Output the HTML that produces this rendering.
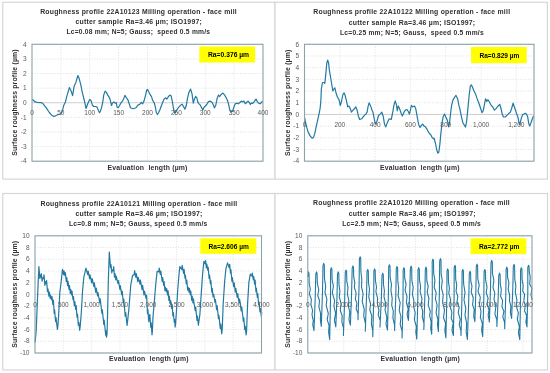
<!DOCTYPE html>
<html><head><meta charset="utf-8"><title>Roughness profiles</title>
<style>
html,body{margin:0;padding:0;background:#fff;}
body{width:550px;height:373px;overflow:hidden;}
svg{display:block;}
text{font-family:"Liberation Sans",sans-serif;}
.t{font-size:7.25px;font-weight:bold;letter-spacing:0.25px;fill:#303030;}
.a{font-size:7.1px;font-weight:bold;letter-spacing:0.2px;fill:#303030;}
.k{font-size:6.5px;fill:#595959;}
.r{font-size:6.8px;font-weight:bold;fill:#000;}
</style></head>
<body>
<svg width="550" height="373" viewBox="0 0 550 373">
<rect width="550" height="373" fill="#fff"/>
<rect x="2.8" y="2.3" width="272.2" height="176.79999999999998" fill="#fff" stroke="#d6d6d6" stroke-width="1.2"/>
<text x="138.60" y="13.9" class="t" style="white-space:pre" text-anchor="middle" textLength="196.80" lengthAdjust="spacingAndGlyphs">Roughness profile 22A10123 Milling operation - face mill</text>
<text x="138.75" y="24.2" class="t" style="white-space:pre" text-anchor="middle" textLength="126.70" lengthAdjust="spacingAndGlyphs">cutter sample Ra=3.46 µm; ISO1997;</text>
<text x="138.35" y="34.4" class="t" style="white-space:pre" text-anchor="middle" textLength="143.70" lengthAdjust="spacingAndGlyphs">Lc=0.08 mm; N=5; Gauss;  speed 0.5 mm/s</text>
<line x1="32" y1="161.20" x2="263" y2="161.20" stroke="#dcdcdc" stroke-width="0.9" stroke-dasharray="1 1.6"/>
<text x="26.50" y="163.40" class="k" text-anchor="end">-4</text>
<line x1="32" y1="146.59" x2="263" y2="146.59" stroke="#dcdcdc" stroke-width="0.9" stroke-dasharray="1 1.6"/>
<text x="26.50" y="148.79" class="k" text-anchor="end">-3</text>
<line x1="32" y1="131.97" x2="263" y2="131.97" stroke="#dcdcdc" stroke-width="0.9" stroke-dasharray="1 1.6"/>
<text x="26.50" y="134.17" class="k" text-anchor="end">-2</text>
<line x1="32" y1="117.36" x2="263" y2="117.36" stroke="#dcdcdc" stroke-width="0.9" stroke-dasharray="1 1.6"/>
<text x="26.50" y="119.56" class="k" text-anchor="end">-1</text>
<line x1="32" y1="102.75" x2="263" y2="102.75" stroke="#cfcfcf" stroke-width="1"/>
<text x="26.50" y="104.95" class="k" text-anchor="end">0</text>
<line x1="32" y1="88.14" x2="263" y2="88.14" stroke="#dcdcdc" stroke-width="0.9" stroke-dasharray="1 1.6"/>
<text x="26.50" y="90.34" class="k" text-anchor="end">1</text>
<line x1="32" y1="73.52" x2="263" y2="73.52" stroke="#dcdcdc" stroke-width="0.9" stroke-dasharray="1 1.6"/>
<text x="26.50" y="75.72" class="k" text-anchor="end">2</text>
<line x1="32" y1="58.91" x2="263" y2="58.91" stroke="#dcdcdc" stroke-width="0.9" stroke-dasharray="1 1.6"/>
<text x="26.50" y="61.11" class="k" text-anchor="end">3</text>
<line x1="32" y1="44.30" x2="263" y2="44.30" stroke="#dcdcdc" stroke-width="0.9" stroke-dasharray="1 1.6"/>
<text x="26.50" y="46.50" class="k" text-anchor="end">4</text>
<line x1="60.88" y1="44.3" x2="60.88" y2="161.2" stroke="#dcdcdc" stroke-width="0.9" stroke-dasharray="1 1.6"/>
<line x1="89.75" y1="44.3" x2="89.75" y2="161.2" stroke="#dcdcdc" stroke-width="0.9" stroke-dasharray="1 1.6"/>
<line x1="118.62" y1="44.3" x2="118.62" y2="161.2" stroke="#dcdcdc" stroke-width="0.9" stroke-dasharray="1 1.6"/>
<line x1="147.50" y1="44.3" x2="147.50" y2="161.2" stroke="#dcdcdc" stroke-width="0.9" stroke-dasharray="1 1.6"/>
<line x1="176.38" y1="44.3" x2="176.38" y2="161.2" stroke="#dcdcdc" stroke-width="0.9" stroke-dasharray="1 1.6"/>
<line x1="205.25" y1="44.3" x2="205.25" y2="161.2" stroke="#dcdcdc" stroke-width="0.9" stroke-dasharray="1 1.6"/>
<line x1="234.12" y1="44.3" x2="234.12" y2="161.2" stroke="#dcdcdc" stroke-width="0.9" stroke-dasharray="1 1.6"/>
<polyline points="32.3,99.3 34.8,101.7 37.2,102.3 41.3,102.6 42.9,103.6 46.1,107.6 49.3,112.5 51.7,115.2 54.1,116.5 55.7,115.7 58.1,114.5 60.6,114.1 62.2,111.6 63.8,105.2 65.4,102.0 67.0,95.6 69.4,87.5 71.0,90.7 72.6,95.6 74.2,85.9 75.8,82.7 77.9,75.5 79.0,77.9 80.7,84.3 82.3,92.3 84.7,102.0 86.0,108.4 86.3,107.8 87.7,103.8 89.7,99.4 91.0,100.4 92.4,105.1 93.7,106.5 95.7,106.5 97.1,107.1 98.4,110.5 99.5,112.8 100.4,111.2 101.7,107.1 102.8,101.8 103.7,95.1 105.1,91.1 106.4,92.4 107.8,95.1 109.8,98.4 110.7,101.8 111.5,105.5 112.5,103.1 113.8,101.8 115.1,103.1 116.2,102.5 117.1,107.1 118.2,107.8 119.6,105.5 121.2,102.5 122.5,101.1 123.8,98.4 124.9,95.4 126.5,97.8 127.9,99.8 129.2,103.8 130.5,107.8 133.2,108.7 135.9,107.8 137.9,105.1 139.9,104.2 141.3,102.5 142.7,103.8 144.0,101.1 145.4,95.8 146.7,90.0 147.6,89.5 148.7,91.7 150.0,94.4 151.4,96.4 152.7,100.4 154.1,102.5 155.4,107.1 156.3,112.5 157.4,114.5 158.7,112.5 160.1,109.2 162.1,103.8 164.1,99.1 165.4,97.8 166.8,99.1 168.1,97.1 169.7,95.1 171.1,95.8 172.1,100.4 173.5,108.5 174.6,113.2 175.5,112.5 176.8,109.8 178.8,107.1 180.8,105.1 182.2,104.2 183.5,106.5 184.9,109.2 186.2,105.8 187.5,98.4 188.9,92.4 190.6,89.1 192.0,93.7 193.3,103.1 194.2,99.8 195.6,96.4 196.9,97.8 197.7,101.8 199.0,103.8 200.4,105.2 201.7,107.9 202.8,109.9 204.1,107.2 205.7,105.8 207.1,103.8 208.4,101.6 210.4,101.1 212.2,102.5 213.5,105.2 214.4,107.9 215.8,105.2 217.1,98.5 218.5,95.1 219.8,96.5 221.1,94.4 222.9,93.1 224.5,94.8 225.8,97.1 227.5,100.5 228.5,103.8 229.6,109.2 230.9,111.9 232.5,111.2 233.9,107.2 235.2,103.8 236.8,103.2 238.2,103.8 239.9,102.5 241.3,101.1 242.6,101.8 243.9,101.1 245.3,103.8 246.6,102.5 248.0,101.1 249.3,102.5 250.3,104.5 251.3,103.2 252.7,103.4 254.0,101.8 256.0,99.1 257.4,101.8 258.7,103.2 260.0,103.8 261.4,102.5 262.7,101.1" fill="none" stroke="#2279a2" stroke-width="1.2" stroke-linejoin="round"/>
<rect x="32" y="44.3" width="231" height="116.89999999999999" fill="none" stroke="#8aa3a8" stroke-width="1.1"/>
<text x="32.00" y="115.05" class="k" text-anchor="middle">0</text>
<text x="60.88" y="115.05" class="k" text-anchor="middle">50</text>
<text x="89.75" y="115.05" class="k" text-anchor="middle">100</text>
<text x="118.62" y="115.05" class="k" text-anchor="middle">150</text>
<text x="147.50" y="115.05" class="k" text-anchor="middle">200</text>
<text x="176.38" y="115.05" class="k" text-anchor="middle">250</text>
<text x="205.25" y="115.05" class="k" text-anchor="middle">300</text>
<text x="234.12" y="115.05" class="k" text-anchor="middle">350</text>
<text x="263.00" y="115.05" class="k" text-anchor="middle">400</text>
<text transform="translate(16.8,102.55) rotate(-90)" class="a" text-anchor="middle" textLength="106.50" lengthAdjust="spacingAndGlyphs">Surface roughness profile (µm)</text>
<text x="147.60" y="170.1" class="a" style="white-space:pre" text-anchor="middle" textLength="80.00" lengthAdjust="spacingAndGlyphs">Evaluation  length (µm)</text>
<rect x="199.3" y="46.5" width="55.79999999999998" height="16.0" fill="#ffff00"/>
<text x="228.55" y="57.10" class="r" text-anchor="middle" textLength="41.10" lengthAdjust="spacingAndGlyphs">Ra=0.376 µm</text>
<rect x="275" y="2.3" width="272.4" height="176.79999999999998" fill="#fff" stroke="#d6d6d6" stroke-width="1.2"/>
<text x="411.80" y="14.2" class="t" style="white-space:pre" text-anchor="middle" textLength="197.00" lengthAdjust="spacingAndGlyphs">Roughness profile 22A10122 Milling operation - face mill</text>
<text x="412.10" y="24.5" class="t" style="white-space:pre" text-anchor="middle" textLength="126.60" lengthAdjust="spacingAndGlyphs">cutter sample Ra=3.46 µm; ISO1997;</text>
<text x="411.95" y="34.5" class="t" style="white-space:pre" text-anchor="middle" textLength="143.90" lengthAdjust="spacingAndGlyphs">Lc=0.25 mm; N=5; Gauss,  speed 0.5 mm/s</text>
<line x1="304.5" y1="161.20" x2="534" y2="161.20" stroke="#dcdcdc" stroke-width="0.9" stroke-dasharray="1 1.6"/>
<text x="299.00" y="163.40" class="k" text-anchor="end">-4</text>
<line x1="304.5" y1="149.51" x2="534" y2="149.51" stroke="#dcdcdc" stroke-width="0.9" stroke-dasharray="1 1.6"/>
<text x="299.00" y="151.71" class="k" text-anchor="end">-3</text>
<line x1="304.5" y1="137.82" x2="534" y2="137.82" stroke="#dcdcdc" stroke-width="0.9" stroke-dasharray="1 1.6"/>
<text x="299.00" y="140.02" class="k" text-anchor="end">-2</text>
<line x1="304.5" y1="126.13" x2="534" y2="126.13" stroke="#dcdcdc" stroke-width="0.9" stroke-dasharray="1 1.6"/>
<text x="299.00" y="128.33" class="k" text-anchor="end">-1</text>
<line x1="304.5" y1="114.44" x2="534" y2="114.44" stroke="#cfcfcf" stroke-width="1"/>
<text x="299.00" y="116.64" class="k" text-anchor="end">0</text>
<line x1="304.5" y1="102.75" x2="534" y2="102.75" stroke="#dcdcdc" stroke-width="0.9" stroke-dasharray="1 1.6"/>
<text x="299.00" y="104.95" class="k" text-anchor="end">1</text>
<line x1="304.5" y1="91.06" x2="534" y2="91.06" stroke="#dcdcdc" stroke-width="0.9" stroke-dasharray="1 1.6"/>
<text x="299.00" y="93.26" class="k" text-anchor="end">2</text>
<line x1="304.5" y1="79.37" x2="534" y2="79.37" stroke="#dcdcdc" stroke-width="0.9" stroke-dasharray="1 1.6"/>
<text x="299.00" y="81.57" class="k" text-anchor="end">3</text>
<line x1="304.5" y1="67.68" x2="534" y2="67.68" stroke="#dcdcdc" stroke-width="0.9" stroke-dasharray="1 1.6"/>
<text x="299.00" y="69.88" class="k" text-anchor="end">4</text>
<line x1="304.5" y1="55.99" x2="534" y2="55.99" stroke="#dcdcdc" stroke-width="0.9" stroke-dasharray="1 1.6"/>
<text x="299.00" y="58.19" class="k" text-anchor="end">5</text>
<line x1="304.5" y1="44.30" x2="534" y2="44.30" stroke="#dcdcdc" stroke-width="0.9" stroke-dasharray="1 1.6"/>
<text x="299.00" y="46.50" class="k" text-anchor="end">6</text>
<line x1="339.81" y1="44.3" x2="339.81" y2="161.2" stroke="#dcdcdc" stroke-width="0.9" stroke-dasharray="1 1.6"/>
<line x1="375.12" y1="44.3" x2="375.12" y2="161.2" stroke="#dcdcdc" stroke-width="0.9" stroke-dasharray="1 1.6"/>
<line x1="410.42" y1="44.3" x2="410.42" y2="161.2" stroke="#dcdcdc" stroke-width="0.9" stroke-dasharray="1 1.6"/>
<line x1="445.73" y1="44.3" x2="445.73" y2="161.2" stroke="#dcdcdc" stroke-width="0.9" stroke-dasharray="1 1.6"/>
<line x1="481.04" y1="44.3" x2="481.04" y2="161.2" stroke="#dcdcdc" stroke-width="0.9" stroke-dasharray="1 1.6"/>
<line x1="516.35" y1="44.3" x2="516.35" y2="161.2" stroke="#dcdcdc" stroke-width="0.9" stroke-dasharray="1 1.6"/>
<polyline points="304.7,117.8 305.4,121.8 306.7,127.2 308.0,131.9 310.1,135.9 312.1,138.2 313.4,137.6 314.7,133.9 316.1,127.2 317.7,119.8 318.8,115.1 320.1,108.4 320.8,101.7 321.4,88.5 322.5,82.5 323.9,82.5 324.8,83.4 325.7,75.1 326.8,63.0 327.7,60.1 328.6,63.0 329.5,71.1 330.8,78.5 332.2,87.2 332.8,90.9 333.8,89.2 334.9,87.8 335.9,92.5 337.5,97.2 339.1,99.9 340.3,105.5 341.6,101.0 342.9,94.5 344.0,92.8 345.0,95.0 346.3,100.1 347.7,106.8 349.0,106.1 350.4,108.8 351.4,112.1 353.0,110.1 354.4,108.8 355.7,106.8 357.1,110.1 358.4,116.2 359.7,119.5 361.7,118.8 363.7,116.2 365.8,114.1 367.1,112.1 368.0,106.8 369.1,102.8 370.4,105.4 371.8,109.5 373.1,112.8 374.5,120.2 375.5,124.2 376.9,121.5 378.5,115.5 380.1,114.1 381.8,112.1 383.2,116.2 384.5,124.2 385.8,126.9 387.2,122.9 389.2,118.8 391.2,119.5 392.5,113.5 393.9,105.4 395.2,100.8 396.6,105.4 397.2,110.8 398.3,106.1 399.6,108.8 401.2,113.5 402.4,115.9 403.7,112.8 405.4,110.1 407.0,109.5 408.3,111.5 409.4,114.1 410.4,110.1 411.4,105.4 412.7,106.8 414.5,106.1 415.8,108.8 417.4,118.0 418.7,124.7 420.1,127.4 421.4,125.4 422.7,124.1 424.1,126.1 425.4,126.8 426.8,128.8 428.1,131.4 429.4,133.5 430.8,134.8 432.1,137.5 433.5,138.8 434.1,138.2 435.5,143.5 436.8,150.2 437.9,153.2 438.8,152.2 439.8,144.9 440.8,134.1 442.2,122.1 443.2,116.7 444.6,114.0 445.9,117.4 447.3,120.1 448.6,126.8 449.5,123.4 450.5,114.0 451.6,105.4 452.9,100.1 454.9,96.7 456.0,95.4 457.6,98.7 458.9,105.4 459.8,108.6 461.4,116.6 463.0,123.1 464.6,125.5 465.5,127.1 466.6,121.4 467.9,108.6 469.1,95.7 470.3,86.1 471.4,84.8 472.7,87.7 474.0,90.9 475.6,94.1 477.2,98.9 478.8,103.0 480.4,107.8 482.0,112.6 483.1,111.0 484.3,105.4 485.5,98.9 486.8,101.4 488.0,99.7 489.6,102.2 491.2,105.4 492.8,107.0 494.4,110.2 496.0,108.6 497.6,106.5 498.6,105.5 499.8,104.3 501.0,108.5 502.2,114.0 503.4,117.0 505.3,117.0 507.1,115.2 508.9,113.3 510.4,112.1 511.6,108.5 513.1,103.1 514.3,106.7 515.5,110.3 516.7,114.0 517.9,117.0 518.9,122.4 519.7,124.8 520.6,121.2 521.5,117.6 522.7,114.6 523.9,114.0 525.2,113.3 526.4,114.0 527.6,116.4 528.8,123.6 529.7,126.0 530.9,123.0 532.4,118.8 533.6,115.8" fill="none" stroke="#2279a2" stroke-width="1.2" stroke-linejoin="round"/>
<rect x="304.5" y="44.3" width="229.5" height="116.89999999999999" fill="none" stroke="#8aa3a8" stroke-width="1.1"/>
<text x="304.50" y="126.74" class="k" text-anchor="middle">0</text>
<text x="339.81" y="126.74" class="k" text-anchor="middle">200</text>
<text x="375.12" y="126.74" class="k" text-anchor="middle">400</text>
<text x="410.42" y="126.74" class="k" text-anchor="middle">600</text>
<text x="445.73" y="126.74" class="k" text-anchor="middle">800</text>
<text x="481.04" y="126.74" class="k" text-anchor="middle">1,000</text>
<text x="516.35" y="126.74" class="k" text-anchor="middle">1,200</text>
<text transform="translate(290.3,102.75) rotate(-90)" class="a" text-anchor="middle" textLength="106.30" lengthAdjust="spacingAndGlyphs">Surface roughness profile (µm)</text>
<text x="419.80" y="170.1" class="a" style="white-space:pre" text-anchor="middle" textLength="79.60" lengthAdjust="spacingAndGlyphs">Evaluation  length (µm)</text>
<rect x="471" y="47" width="55.700000000000045" height="16.200000000000003" fill="#ffff00"/>
<text x="499.40" y="57.70" class="r" text-anchor="middle" textLength="39.80" lengthAdjust="spacingAndGlyphs">Ra=0.829 µm</text>
<rect x="2.8" y="193.5" width="272.2" height="176.5" fill="#fff" stroke="#d6d6d6" stroke-width="1.2"/>
<text x="139.00" y="205.5" class="t" style="white-space:pre" text-anchor="middle" textLength="197.00" lengthAdjust="spacingAndGlyphs">Roughness profile 22A10121 Milling operation - face mill</text>
<text x="139.00" y="215.6" class="t" style="white-space:pre" text-anchor="middle" textLength="127.20" lengthAdjust="spacingAndGlyphs">cutter sample Ra=3.46 µm; ISO1997;</text>
<text x="138.20" y="225.7" class="t" style="white-space:pre" text-anchor="middle" textLength="138.60" lengthAdjust="spacingAndGlyphs">Lc=0.8 mm; N=5; Gauss, speed 0.5 mm/s</text>
<line x1="35" y1="353.00" x2="261.5" y2="353.00" stroke="#dcdcdc" stroke-width="0.9" stroke-dasharray="1 1.6"/>
<text x="29.50" y="355.20" class="k" text-anchor="end">-10</text>
<line x1="35" y1="341.28" x2="261.5" y2="341.28" stroke="#dcdcdc" stroke-width="0.9" stroke-dasharray="1 1.6"/>
<text x="29.50" y="343.48" class="k" text-anchor="end">-8</text>
<line x1="35" y1="329.56" x2="261.5" y2="329.56" stroke="#dcdcdc" stroke-width="0.9" stroke-dasharray="1 1.6"/>
<text x="29.50" y="331.76" class="k" text-anchor="end">-6</text>
<line x1="35" y1="317.84" x2="261.5" y2="317.84" stroke="#dcdcdc" stroke-width="0.9" stroke-dasharray="1 1.6"/>
<text x="29.50" y="320.04" class="k" text-anchor="end">-4</text>
<line x1="35" y1="306.12" x2="261.5" y2="306.12" stroke="#dcdcdc" stroke-width="0.9" stroke-dasharray="1 1.6"/>
<text x="29.50" y="308.32" class="k" text-anchor="end">-2</text>
<line x1="35" y1="294.40" x2="261.5" y2="294.40" stroke="#dadada" stroke-width="1"/>
<text x="29.50" y="296.60" class="k" text-anchor="end">0</text>
<line x1="35" y1="282.68" x2="261.5" y2="282.68" stroke="#dcdcdc" stroke-width="0.9" stroke-dasharray="1 1.6"/>
<text x="29.50" y="284.88" class="k" text-anchor="end">2</text>
<line x1="35" y1="270.96" x2="261.5" y2="270.96" stroke="#dcdcdc" stroke-width="0.9" stroke-dasharray="1 1.6"/>
<text x="29.50" y="273.16" class="k" text-anchor="end">4</text>
<line x1="35" y1="259.24" x2="261.5" y2="259.24" stroke="#dcdcdc" stroke-width="0.9" stroke-dasharray="1 1.6"/>
<text x="29.50" y="261.44" class="k" text-anchor="end">6</text>
<line x1="35" y1="247.52" x2="261.5" y2="247.52" stroke="#dcdcdc" stroke-width="0.9" stroke-dasharray="1 1.6"/>
<text x="29.50" y="249.72" class="k" text-anchor="end">8</text>
<line x1="35" y1="235.80" x2="261.5" y2="235.80" stroke="#dcdcdc" stroke-width="0.9" stroke-dasharray="1 1.6"/>
<text x="29.50" y="238.00" class="k" text-anchor="end">10</text>
<line x1="63.31" y1="235.8" x2="63.31" y2="353" stroke="#dcdcdc" stroke-width="0.9" stroke-dasharray="1 1.6"/>
<line x1="91.62" y1="235.8" x2="91.62" y2="353" stroke="#dcdcdc" stroke-width="0.9" stroke-dasharray="1 1.6"/>
<line x1="119.94" y1="235.8" x2="119.94" y2="353" stroke="#dcdcdc" stroke-width="0.9" stroke-dasharray="1 1.6"/>
<line x1="148.25" y1="235.8" x2="148.25" y2="353" stroke="#dcdcdc" stroke-width="0.9" stroke-dasharray="1 1.6"/>
<line x1="176.56" y1="235.8" x2="176.56" y2="353" stroke="#dcdcdc" stroke-width="0.9" stroke-dasharray="1 1.6"/>
<line x1="204.88" y1="235.8" x2="204.88" y2="353" stroke="#dcdcdc" stroke-width="0.9" stroke-dasharray="1 1.6"/>
<line x1="233.19" y1="235.8" x2="233.19" y2="353" stroke="#dcdcdc" stroke-width="0.9" stroke-dasharray="1 1.6"/>
<polyline points="35.1,342.4 36.2,330.4 37.3,303.6 38.4,276.8 38.9,266.6 39.8,278.4 40.2,275.2 40.8,277.2 41.2,273.6 42.2,281.2 42.6,277.8 43.5,278.7 44.0,274.9 44.9,285.4 45.4,281.6 46.2,283.6 46.6,280.6 47.5,291.6 48.0,288.8 48.9,296.2 49.4,292.2 50.2,298.5 50.6,295.3 51.6,299.8 52.0,296.6 52.9,304.4 53.4,300.0 54.2,313.4 54.6,309.8 55.6,321.6 56.0,317.6 57.4,329.5 57.9,325.9 58.7,314.3 59.8,292.9 61.1,282.1 62.5,269.3 63.6,274.7 64.0,270.9 64.9,275.6 65.3,272.6 66.3,281.4 66.8,277.6 67.6,285.6 68.0,281.4 69.0,289.3 69.5,285.7 70.3,293.5 70.8,289.5 71.6,294.8 72.0,291.0 73.0,299.7 73.5,296.7 74.3,305.6 74.8,301.6 75.7,309.5 76.2,305.7 77.0,317.2 77.5,314.0 78.3,325.1 78.8,322.3 79.7,330.3 80.2,326.1 81.2,314.3 82.6,290.2 83.9,276.8 86.0,268.2 87.7,274.6 88.2,271.0 89.6,278.7 90.0,274.9 91.7,282.9 92.2,278.7 93.9,286.7 94.3,282.9 95.8,292.3 96.2,288.1 97.6,295.9 98.0,292.5 99.8,302.9 100.2,298.9 101.9,313.3 102.3,309.9 103.8,324.4 104.2,320.2 105.7,335.1 106.2,330.9 106.5,337.2 107.0,334.2 107.5,317.0 108.3,282.1 109.3,252.1 110.5,267.6 111.0,264.6 111.8,273.0 112.2,269.8 113.2,270.9 113.7,266.7 114.5,277.1 115.0,273.7 115.8,280.0 116.2,276.2 118.0,283.7 118.5,280.5 119.9,289.3 120.3,285.7 121.7,294.6 122.2,291.2 123.3,302.6 123.8,299.2 125.2,316.1 125.7,312.5 127.1,325.5 127.5,321.9 128.9,308.9 130.8,284.8 132.6,275.4 134.1,274.9 134.6,270.7 135.9,277.3 136.3,273.5 137.8,281.6 138.2,277.4 140.0,284.2 140.4,280.0 142.1,289.7 142.6,285.3 144.0,294.8 144.4,291.0 146.1,298.4 146.6,295.4 147.5,313.7 147.9,309.5 148.8,321.7 149.2,317.5 149.8,314.3 150.7,327.1 151.2,322.9 152.0,334.8 152.4,331.2 153.0,317.0 154.4,300.9 155.7,284.8 157.1,271.4 158.7,272.0 159.2,268.2 160.3,274.4 160.8,271.2 162.2,281.5 162.7,277.5 163.6,285.3 164.1,281.7 164.9,290.4 165.3,287.2 166.2,291.7 166.7,288.7 167.6,294.9 168.1,290.9 168.9,300.4 169.3,296.0 170.2,303.7 170.7,300.7 171.6,308.3 172.1,304.3 172.9,316.0 173.3,312.6 174.3,322.5 174.8,319.5 175.1,327.1 175.6,323.9 176.6,308.9 177.7,290.2 178.8,276.8 179.8,266.6 181.8,269.4 182.2,265.4 183.6,273.5 184.1,269.3 185.0,278.2 185.4,275.4 186.3,284.0 186.8,280.2 187.7,290.2 188.2,287.4 189.0,292.1 189.4,288.3 190.3,294.6 190.8,291.2 191.7,300.3 192.2,296.1 193.0,303.0 193.4,298.8 195.2,310.7 195.7,307.1 197.0,320.5 197.4,316.1 198.4,325.3 198.8,322.1 199.9,314.3 201.3,292.9 202.6,274.1 203.9,261.3 205.1,263.6 205.6,260.6 206.4,268.0 206.8,264.2 207.8,270.2 208.2,267.4 209.1,278.4 209.6,275.2 210.4,283.8 210.8,280.4 211.8,292.1 212.2,288.3 213.1,297.0 213.6,294.0 215.0,302.3 215.4,299.5 216.6,309.7 217.1,305.5 218.5,318.6 218.9,315.4 220.3,328.4 220.8,324.2 221.7,333.8 222.2,329.6 223.2,303.6 224.6,282.1 225.9,268.8 227.5,262.9 229.2,267.8 229.7,264.4 230.5,273.2 230.9,269.6 231.9,281.3 232.3,277.7 233.7,286.7 234.2,282.9 235.3,292.1 235.8,288.3 237.2,297.3 237.7,293.7 239.1,302.8 239.6,299.0 241.2,311.0 241.7,306.8 243.4,321.4 243.8,317.8 244.7,329.4 245.2,326.0 246.1,334.9 246.6,331.1 247.6,303.6 248.9,282.1 250.3,274.1 251.9,276.2 252.3,273.0 253.3,279.7 253.8,276.5 254.6,284.2 255.1,280.0 256.0,292.0 256.4,288.4 257.3,297.3 257.8,293.7 258.6,305.0 259.1,302.2 260.0,312.0 260.4,308.6 261.3,316.1 261.8,312.5" fill="none" stroke="#2279a2" stroke-width="1.2" stroke-linejoin="round"/>
<rect x="35" y="235.8" width="226.5" height="117.19999999999999" fill="none" stroke="#8aa3a8" stroke-width="1.1"/>
<text x="35.00" y="306.70" class="k" text-anchor="middle">0</text>
<text x="63.31" y="306.70" class="k" text-anchor="middle">500</text>
<text x="91.62" y="306.70" class="k" text-anchor="middle">1,000</text>
<text x="119.94" y="306.70" class="k" text-anchor="middle">1,500</text>
<text x="148.25" y="306.70" class="k" text-anchor="middle">2,000</text>
<text x="176.56" y="306.70" class="k" text-anchor="middle">2,500</text>
<text x="204.88" y="306.70" class="k" text-anchor="middle">3,000</text>
<text x="233.19" y="306.70" class="k" text-anchor="middle">3,500</text>
<text x="261.50" y="306.70" class="k" text-anchor="middle">4,000</text>
<text transform="translate(17.4,294.25) rotate(-90)" class="a" text-anchor="middle" textLength="107.10" lengthAdjust="spacingAndGlyphs">Surface roughness profile (µm)</text>
<text x="148.80" y="361.3" class="a" style="white-space:pre" text-anchor="middle" textLength="79.60" lengthAdjust="spacingAndGlyphs">Evaluation  length (µm)</text>
<rect x="200.3" y="238.3" width="56.0" height="15.5" fill="#ffff00"/>
<text x="228.65" y="248.65" class="r" text-anchor="middle" textLength="40.30" lengthAdjust="spacingAndGlyphs">Ra=2.606 µm</text>
<rect x="275" y="193.5" width="272.5" height="176.5" fill="#fff" stroke="#d6d6d6" stroke-width="1.2"/>
<text x="411.55" y="205" class="t" style="white-space:pre" text-anchor="middle" textLength="196.90" lengthAdjust="spacingAndGlyphs">Roughness profile 22A10120 Milling operation - face mill</text>
<text x="412.30" y="215.6" class="t" style="white-space:pre" text-anchor="middle" textLength="127.00" lengthAdjust="spacingAndGlyphs">cutter sample Ra=3.46 µm; ISO1997;</text>
<text x="411.65" y="225.5" class="t" style="white-space:pre" text-anchor="middle" textLength="138.90" lengthAdjust="spacingAndGlyphs">Lc=2.5 mm; N=5; Gauss, speed 0.5 mm/s</text>
<line x1="307.8" y1="353.00" x2="532" y2="353.00" stroke="#dcdcdc" stroke-width="0.9" stroke-dasharray="1 1.6"/>
<text x="302.30" y="355.20" class="k" text-anchor="end">-10</text>
<line x1="307.8" y1="341.28" x2="532" y2="341.28" stroke="#dcdcdc" stroke-width="0.9" stroke-dasharray="1 1.6"/>
<text x="302.30" y="343.48" class="k" text-anchor="end">-8</text>
<line x1="307.8" y1="329.56" x2="532" y2="329.56" stroke="#dcdcdc" stroke-width="0.9" stroke-dasharray="1 1.6"/>
<text x="302.30" y="331.76" class="k" text-anchor="end">-6</text>
<line x1="307.8" y1="317.84" x2="532" y2="317.84" stroke="#dcdcdc" stroke-width="0.9" stroke-dasharray="1 1.6"/>
<text x="302.30" y="320.04" class="k" text-anchor="end">-4</text>
<line x1="307.8" y1="306.12" x2="532" y2="306.12" stroke="#dcdcdc" stroke-width="0.9" stroke-dasharray="1 1.6"/>
<text x="302.30" y="308.32" class="k" text-anchor="end">-2</text>
<line x1="307.8" y1="294.40" x2="532" y2="294.40" stroke="#e4e4e4" stroke-width="1"/>
<text x="302.30" y="296.60" class="k" text-anchor="end">0</text>
<line x1="307.8" y1="282.68" x2="532" y2="282.68" stroke="#dcdcdc" stroke-width="0.9" stroke-dasharray="1 1.6"/>
<text x="302.30" y="284.88" class="k" text-anchor="end">2</text>
<line x1="307.8" y1="270.96" x2="532" y2="270.96" stroke="#dcdcdc" stroke-width="0.9" stroke-dasharray="1 1.6"/>
<text x="302.30" y="273.16" class="k" text-anchor="end">4</text>
<line x1="307.8" y1="259.24" x2="532" y2="259.24" stroke="#dcdcdc" stroke-width="0.9" stroke-dasharray="1 1.6"/>
<text x="302.30" y="261.44" class="k" text-anchor="end">6</text>
<line x1="307.8" y1="247.52" x2="532" y2="247.52" stroke="#dcdcdc" stroke-width="0.9" stroke-dasharray="1 1.6"/>
<text x="302.30" y="249.72" class="k" text-anchor="end">8</text>
<line x1="307.8" y1="235.80" x2="532" y2="235.80" stroke="#dcdcdc" stroke-width="0.9" stroke-dasharray="1 1.6"/>
<text x="302.30" y="238.00" class="k" text-anchor="end">10</text>
<line x1="343.67" y1="235.8" x2="343.67" y2="353" stroke="#dcdcdc" stroke-width="0.9" stroke-dasharray="1 1.6"/>
<line x1="379.54" y1="235.8" x2="379.54" y2="353" stroke="#dcdcdc" stroke-width="0.9" stroke-dasharray="1 1.6"/>
<line x1="415.42" y1="235.8" x2="415.42" y2="353" stroke="#dcdcdc" stroke-width="0.9" stroke-dasharray="1 1.6"/>
<line x1="451.29" y1="235.8" x2="451.29" y2="353" stroke="#dcdcdc" stroke-width="0.9" stroke-dasharray="1 1.6"/>
<line x1="487.16" y1="235.8" x2="487.16" y2="353" stroke="#dcdcdc" stroke-width="0.9" stroke-dasharray="1 1.6"/>
<line x1="523.03" y1="235.8" x2="523.03" y2="353" stroke="#dcdcdc" stroke-width="0.9" stroke-dasharray="1 1.6"/>
<polyline points="307.9,277.0 308.4,271.9 309.0,273.4 309.2,283.6 310.3,289.0 309.4,294.0 311.4,299.5 310.9,304.5 312.6,310.3 312.0,314.6 313.3,320.8 312.7,324.5 314.0,330.6 315.2,298.3 315.8,274.1 316.5,271.9 317.1,273.4 317.3,282.8 318.8,290.0 317.7,295.5 319.5,300.5 318.9,306.8 320.6,313.4 320.4,320.1 321.3,326.4 322.5,291.8 323.0,265.6 323.7,263.4 324.3,264.9 324.5,278.6 325.7,286.1 325.0,292.5 326.9,299.3 326.2,305.3 328.3,313.5 327.2,319.7 329.1,325.5 328.6,332.0 329.7,339.6 330.5,300.1 330.6,269.9 331.3,267.7 331.9,269.2 332.1,279.6 333.4,286.1 332.3,292.9 334.6,300.6 333.9,306.1 335.6,313.4 334.4,320.0 335.8,327.0 337.0,296.7 337.5,274.1 338.2,271.9 338.8,273.4 339.0,284.6 339.9,291.2 339.3,296.8 341.0,303.3 340.3,310.5 342.2,315.8 341.9,321.8 343.6,328.4 343.4,335.4 344.7,299.5 345.3,272.3 346.0,270.1 346.6,271.6 346.8,281.1 348.0,287.3 347.4,294.2 348.8,300.3 348.4,306.2 349.8,312.1 349.0,319.5 350.4,325.2 351.6,292.6 352.2,268.1 352.9,265.9 353.5,267.4 353.7,276.7 354.8,282.8 354.3,287.2 356.1,293.1 355.4,299.2 356.9,303.1 356.2,308.7 358.0,313.6 358.0,319.8 359.1,285.1 359.4,259.0 360.1,256.8 360.7,258.3 360.9,271.7 361.8,279.3 361.5,286.8 363.1,293.9 362.2,301.4 364.3,309.6 363.7,315.6 365.6,324.4 365.3,331.2 366.5,297.3 367.0,271.7 367.7,269.5 368.3,271.0 368.5,282.9 369.5,289.0 368.8,297.3 370.6,304.0 369.8,310.0 371.8,315.7 371.4,324.2 372.7,330.4 372.8,336.7 373.7,299.4 373.9,271.1 374.6,268.9 375.2,270.4 375.4,280.5 376.5,287.0 375.9,291.7 377.6,298.4 377.3,303.2 378.9,310.3 378.2,314.9 380.3,320.6 380.0,327.0 381.4,297.4 382.0,275.3 382.7,273.1 383.3,274.6 383.5,284.5 384.4,290.5 384.0,296.6 385.7,303.7 385.1,309.8 386.9,317.8 386.0,323.8 387.5,330.0 388.4,294.1 388.7,266.9 389.4,264.7 390.0,266.2 390.2,277.9 391.5,284.6 390.9,290.1 392.2,298.5 391.7,305.2 393.3,311.1 392.9,317.9 394.6,325.0 394.6,330.6 395.8,295.3 396.3,268.7 397.0,266.5 397.6,268.0 397.8,280.8 398.7,288.0 398.1,295.9 400.2,302.6 399.2,310.2 401.0,316.9 400.2,324.4 402.1,331.3 402.1,337.9 403.0,299.3 403.2,269.9 403.9,267.7 404.5,269.2 404.7,278.2 406.1,284.4 405.1,290.1 407.0,296.5 406.4,302.6 408.2,309.1 407.1,314.2 408.4,320.4 409.8,290.5 410.4,268.3 411.1,266.1 411.7,267.6 411.9,280.7 413.2,287.4 412.4,294.4 413.9,300.7 413.7,306.9 415.2,312.6 414.4,319.6 416.4,327.0 415.8,331.6 416.8,339.1 417.8,299.8 418.0,269.9 418.7,267.7 419.3,269.2 419.5,280.0 420.6,286.6 420.1,291.7 422.0,298.9 421.1,305.5 422.7,311.2 422.3,316.9 424.1,324.1 423.8,329.4 424.9,295.1 425.3,269.3 426.0,267.1 426.6,268.6 426.8,280.5 428.2,286.3 427.2,292.1 428.9,298.5 428.2,305.1 430.3,311.3 429.6,315.7 431.2,321.9 430.7,328.2 431.7,334.3 432.3,293.0 432.2,261.4 432.9,259.2 433.5,260.7 433.7,273.7 434.9,280.2 434.2,287.3 436.2,293.0 435.4,298.6 437.1,305.1 436.1,312.6 437.9,319.5 437.5,324.6 438.4,331.8 439.4,291.5 439.7,260.8 440.4,258.6 441.0,260.1 441.2,274.5 442.3,280.6 441.4,288.0 443.2,294.7 442.6,302.5 444.5,310.0 443.5,317.7 445.6,323.2 444.8,330.2 445.9,337.9 446.8,299.9 447.0,271.1 447.7,268.9 448.3,270.4 448.5,282.2 449.4,288.1 448.8,293.4 450.6,299.7 449.9,305.9 451.9,312.3 451.2,318.3 453.2,322.8 452.0,330.0 453.4,335.5 454.1,296.9 454.2,267.5 454.9,265.3 455.5,266.8 455.7,279.3 456.7,284.9 456.1,291.4 457.8,296.3 457.0,302.4 459.2,307.3 458.2,312.4 460.2,319.3 459.2,324.7 460.9,330.7 461.0,335.5 461.9,299.2 462.1,271.7 462.8,269.5 463.4,271.0 463.6,283.5 465.0,292.4 464.0,300.0 465.8,308.3 465.0,315.1 466.7,323.3 466.2,331.9 467.4,339.4 468.7,301.9 469.3,273.5 470.0,271.3 470.6,272.8 470.8,281.4 472.0,286.2 471.2,292.0 473.3,298.0 472.6,304.9 474.2,309.4 473.7,316.3 474.9,321.6 475.9,290.0 476.3,266.3 477.0,264.1 477.6,265.6 477.8,278.6 479.2,285.4 478.0,291.5 480.3,297.1 479.5,304.4 481.0,311.3 480.4,317.3 482.4,323.8 481.6,329.9 482.7,336.6 483.8,299.7 484.1,271.7 484.8,269.5 485.4,271.0 485.6,280.0 487.0,286.8 486.2,292.7 488.1,298.1 487.1,303.5 489.0,310.1 488.2,315.1 489.4,322.1 490.5,288.2 491.0,262.6 491.7,260.4 492.3,261.9 492.5,273.6 493.9,280.2 493.0,287.4 494.8,293.4 494.0,299.1 495.9,306.4 494.9,314.0 496.8,319.7 496.9,326.4 498.2,297.1 498.8,275.3 499.5,273.1 500.1,274.6 500.3,284.2 501.3,289.7 500.6,296.2 502.6,300.6 502.0,306.8 503.9,311.3 502.8,316.7 504.6,322.7 504.7,328.8 505.8,294.9 506.1,269.3 506.8,267.1 507.4,268.6 507.6,277.4 508.9,282.9 508.2,289.4 509.7,295.5 509.5,300.9 510.9,306.1 510.4,312.5 511.6,318.5 512.8,288.7 513.3,266.6 514.0,264.4 514.6,265.9 514.8,279.4 515.9,286.0 515.3,292.1 516.9,299.8 516.3,306.2 518.4,313.1 517.3,319.0 519.4,326.9 518.4,332.5 519.8,339.6 520.5,300.1 520.6,269.9 521.3,267.7 521.9,269.2 522.1,279.6 523.2,285.7 522.7,291.1 524.6,294.6 523.8,301.1 525.3,305.1 524.6,311.0 526.7,315.7 525.9,322.1 527.0,327.0 527.8,293.1 527.8,267.5 528.5,265.3 529.1,266.8 529.3,272.2 530.2,277.2 529.7,284.2 531.9,288.1 531.0,295.0 532.2,300.0" fill="none" stroke="#2279a2" stroke-width="1.1" stroke-linejoin="round"/>
<rect x="307.8" y="235.8" width="224.2" height="117.19999999999999" fill="none" stroke="#8aa3a8" stroke-width="1.1"/>
<text x="307.80" y="306.70" class="k" text-anchor="middle">0</text>
<text x="343.67" y="306.70" class="k" text-anchor="middle">2,000</text>
<text x="379.54" y="306.70" class="k" text-anchor="middle">4,000</text>
<text x="415.42" y="306.70" class="k" text-anchor="middle">6,000</text>
<text x="451.29" y="306.70" class="k" text-anchor="middle">8,000</text>
<text x="487.16" y="306.70" class="k" text-anchor="middle">10,000</text>
<text x="523.03" y="306.70" class="k" text-anchor="middle">12,000</text>
<text transform="translate(290.3,294.25) rotate(-90)" class="a" text-anchor="middle" textLength="107.10" lengthAdjust="spacingAndGlyphs">Surface roughness profile (µm)</text>
<text x="420.30" y="361.1" class="a" style="white-space:pre" text-anchor="middle" textLength="79.40" lengthAdjust="spacingAndGlyphs">Evaluation  length (µm)</text>
<rect x="470.6" y="238.3" width="55.69999999999993" height="15.799999999999983" fill="#ffff00"/>
<text x="499.15" y="248.80" class="r" text-anchor="middle" textLength="40.30" lengthAdjust="spacingAndGlyphs">Ra=2.772 µm</text>
</svg>
</body></html>
